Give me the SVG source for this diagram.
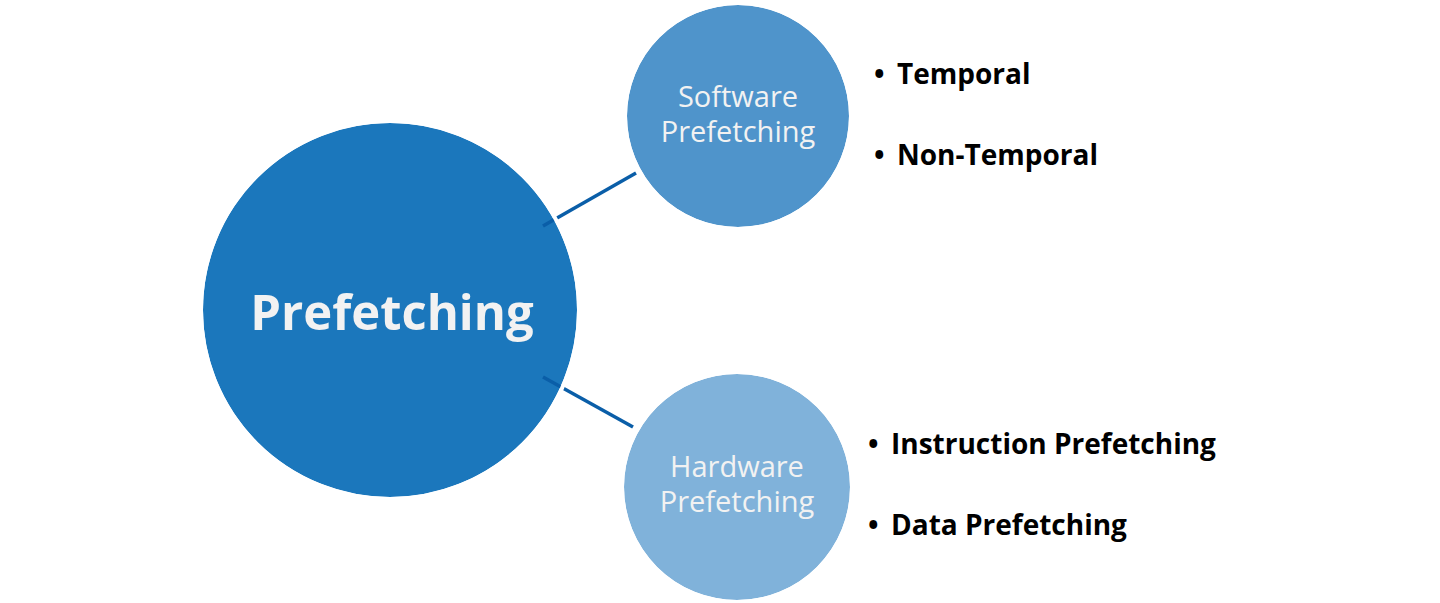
<svg xmlns="http://www.w3.org/2000/svg" width="1440" height="603" viewBox="0 0 1440 603">
<style>
.c{font-family:"Open Sans","Noto Sans",sans-serif;fill:#f2f2f2;text-anchor:middle}
.b{font-family:"Open Sans","Noto Sans",sans-serif;font-weight:bold;font-size:28px;fill:#000}
.ln{stroke:#0a5ea8;stroke-width:3.5}
.ring{fill:none;stroke:#fff;stroke-width:4}
</style>
<rect width="1440" height="603" fill="#fff"/>
<g id="prefetching"><circle cx="390" cy="310" r="187" fill="#1b77bc"/></g>
<g id="software"><circle cx="738" cy="116" r="111" fill="#4f94cb"/></g>
<g id="hardware"><circle cx="737" cy="487" r="113" fill="#80b2da"/></g>
<g id="connectors">
<line class="ln" x1="543" y1="226" x2="636" y2="173"/>
<line class="ln" x1="543" y1="377" x2="633" y2="427"/>
</g>
<circle class="ring" cx="390" cy="310" r="189"/>
<circle class="ring" cx="738" cy="116" r="113"/>
<circle class="ring" cx="737" cy="487" r="115"/>
<text class="c" x="392" y="330" font-size="49" font-weight="bold">Prefetching</text>
<text class="c" x="738" y="107" font-size="29">Software</text>
<text class="c" x="738" y="142" font-size="29">Prefetching</text>
<text class="c" x="737" y="477" font-size="29">Hardware</text>
<text class="c" x="737" y="512" font-size="29">Prefetching</text>
<g id="bullets">
<text class="b" x="874" y="84">•</text><text class="b" x="897" y="84">Temporal</text>
<text class="b" x="874" y="165">•</text><text class="b" x="897" y="165">Non-Temporal</text>
<text class="b" x="868" y="454">•</text><text class="b" x="891" y="454">Instruction Prefetching</text>
<text class="b" x="868" y="535">•</text><text class="b" x="891" y="535">Data Prefetching</text>
</g>
</svg>
